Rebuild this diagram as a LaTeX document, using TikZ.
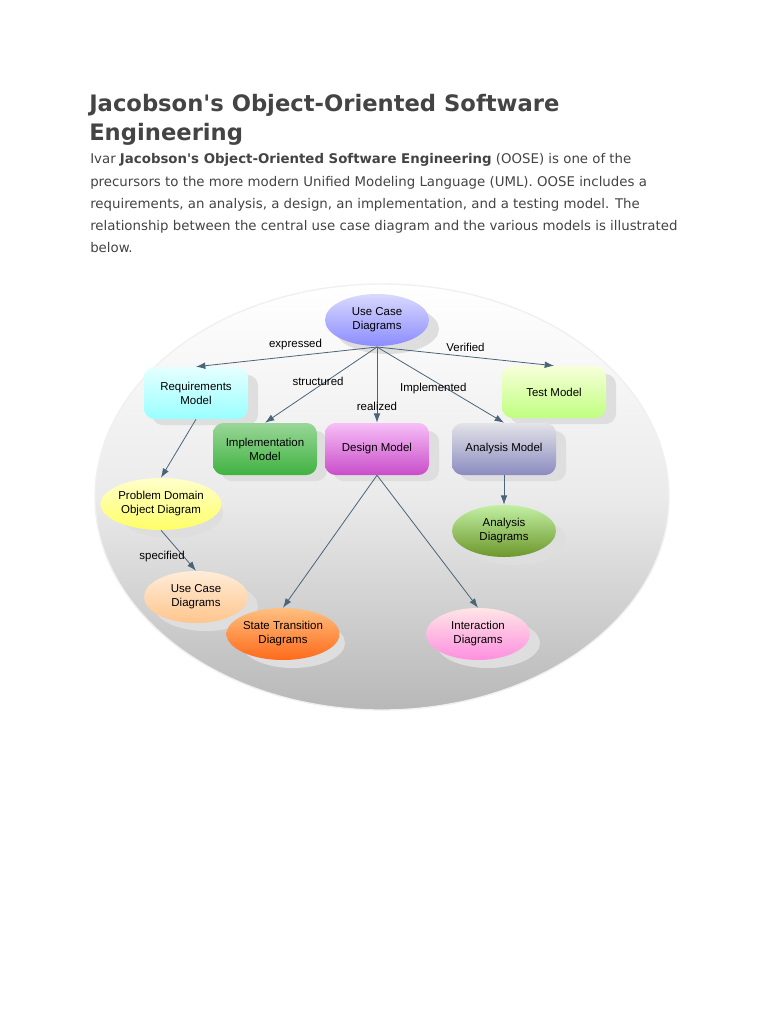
\documentclass[tikz,border=0pt]{standalone}
\usepackage{fontspec}
\setmainfont{DejaVu Sans}
\newfontfamily\lab{Liberation Sans}
\usetikzlibrary{shapes.geometric,arrows.meta}
\definecolor{txt}{HTML}{444444}
\definecolor{arrc}{HTML}{4A6478}
\begin{document}
\begin{tikzpicture}[x=0.75pt,y=-0.75pt,
  box/.style={rounded corners=8pt,minimum width=78pt,minimum height=39pt,align=center,font=\lab\fontsize{8.6}{10.5}\selectfont,draw=none},
  ell/.style={ellipse,minimum width=78pt,minimum height=39pt,inner sep=0pt,align=center,font=\lab\fontsize{8.6}{10.5}\selectfont,draw=none},
  sh/.style={fill=black!13},
  arr/.style={draw=arrc,line width=0.6pt,-{Latex[length=7pt,width=5pt]}},
  lbl/.style={font=\lab\fontsize{8.6}{10.5}\selectfont,inner sep=1pt}]
\useasboundingbox[fill=white] (0,0) rectangle (768,1024);
\node[anchor=west,font=\bfseries\fontsize{17}{20}\selectfont,text=txt,inner sep=0] (t1) at (89,105) {Jacobson\textquotesingle s Object-Oriented Software};
\node[anchor=west,font=\bfseries\fontsize{17}{20}\selectfont,text=txt,inner sep=0] (t2) at (89,134) {Engineering};
\begin{scope}[every node/.style={anchor=west,font=\fontsize{10}{12}\selectfont,text=txt,inner sep=0}]
\node (p1) at (90,160) {Ivar \textbf{Jacobson\textquotesingle s Object-Oriented Software Engineering} (OOSE) is one of the};
\node (p2) at (90,183) {precursors to the more modern Unified Modeling Language (UML). OOSE includes a};
\node (p3) at (90,205) {requirements, an analysis, a design, an implementation, and a testing model. The};
\node (p4) at (90,227) {relationship between the central use case diagram and the various models is illustrated};
\node (p5) at (90,248) {below.};
\end{scope}
\shade[top color=white,bottom color=black!28,middle color=black!8,draw=black!6,line width=1pt] (382,497) ellipse (287 and 213);
% shadows
\foreach \x/\y in {196/393,554/392,265/449,377/449,504/449}{
 \fill[sh,rounded corners=8pt] (\x-44,\y-18) rectangle (\x+62,\y+32);}
\foreach \x/\y in {377/320,161/504,504/531,196/597,283/634,478/634}{
 \fill[sh] (\x+10,\y+9) ellipse (52 and 25);}
\node[ell,shade,top color=blue!15,bottom color=blue!45] (uc) at (377,320) {Use Case\\Diagrams};
\node[box,shade,top color=cyan!10,bottom color=cyan!40] (req) at (196,393) {Requirements\\Model};
\node[box,shade,top color=green!20!yellow!15,bottom color=green!50!yellow!50] (test) at (554,392) {Test Model};
\node[box,shade,top color=green!60!black!40,bottom color=green!60!black!75] (impl) at (265,449) {Implementation\\Model};
\node[box,shade,top color=violet!25!magenta!25,bottom color=violet!60!magenta!70] (des) at (377,449) {Design Model};
\node[box,shade,top color=blue!10!gray!20,bottom color=blue!30!gray!70] (am) at (504,449) {Analysis Model};
\node[ell,shade,top color=yellow!20,bottom color=yellow!60] (pd) at (161,504) {Problem Domain\\Object Diagram};
\node[ell,shade,top color=olive!40!green!30,bottom color=olive!60!green!60!black!70] (ad) at (504,531) {Analysis\\Diagrams};
\node[ell,shade,top color=orange!15,bottom color=orange!45] (uc2) at (196,597) {Use Case\\Diagrams};
\node[ell,shade,top color=orange!50,bottom color=orange!70!red!90] (st) at (283,634) {State Transition\\Diagrams};
\node[ell,shade,top color=pink!40,bottom color=magenta!40!pink!80] (id) at (478,634) {Interaction\\Diagrams};
\coordinate (hub) at (377,347);
\draw[arr] (hub) -- (req.north) node[lbl,pos=0.45,above=3pt] (l1) {expressed};
\draw[arr] (hub) -- (test.north) node[lbl,pos=0.5,above=2pt] (l2) {Verified};
\draw[arr] (hub) -- (impl.north) node[lbl,pos=0.45,left=-14pt] (l3) {structured};
\draw[arr] (hub) -- (des.north) node[lbl,pos=0.78,fill=none] (l4) {realized};
\draw[arr] (hub) -- (am.north) node[lbl,pos=0.55,left=-16pt] (l5) {Implemented};
\draw[arr] (req.south) -- (pd.north);
\draw[arr] (pd.south) -- (uc2.north) node[lbl,pos=0.65,left=-2pt] (l6) {specified};
\draw[arr] (des.south) -- (st.north);
\draw[arr] (des.south) -- (id.north);
\draw[arr] (am.south) -- (ad.north);
\end{tikzpicture}
\end{document}
